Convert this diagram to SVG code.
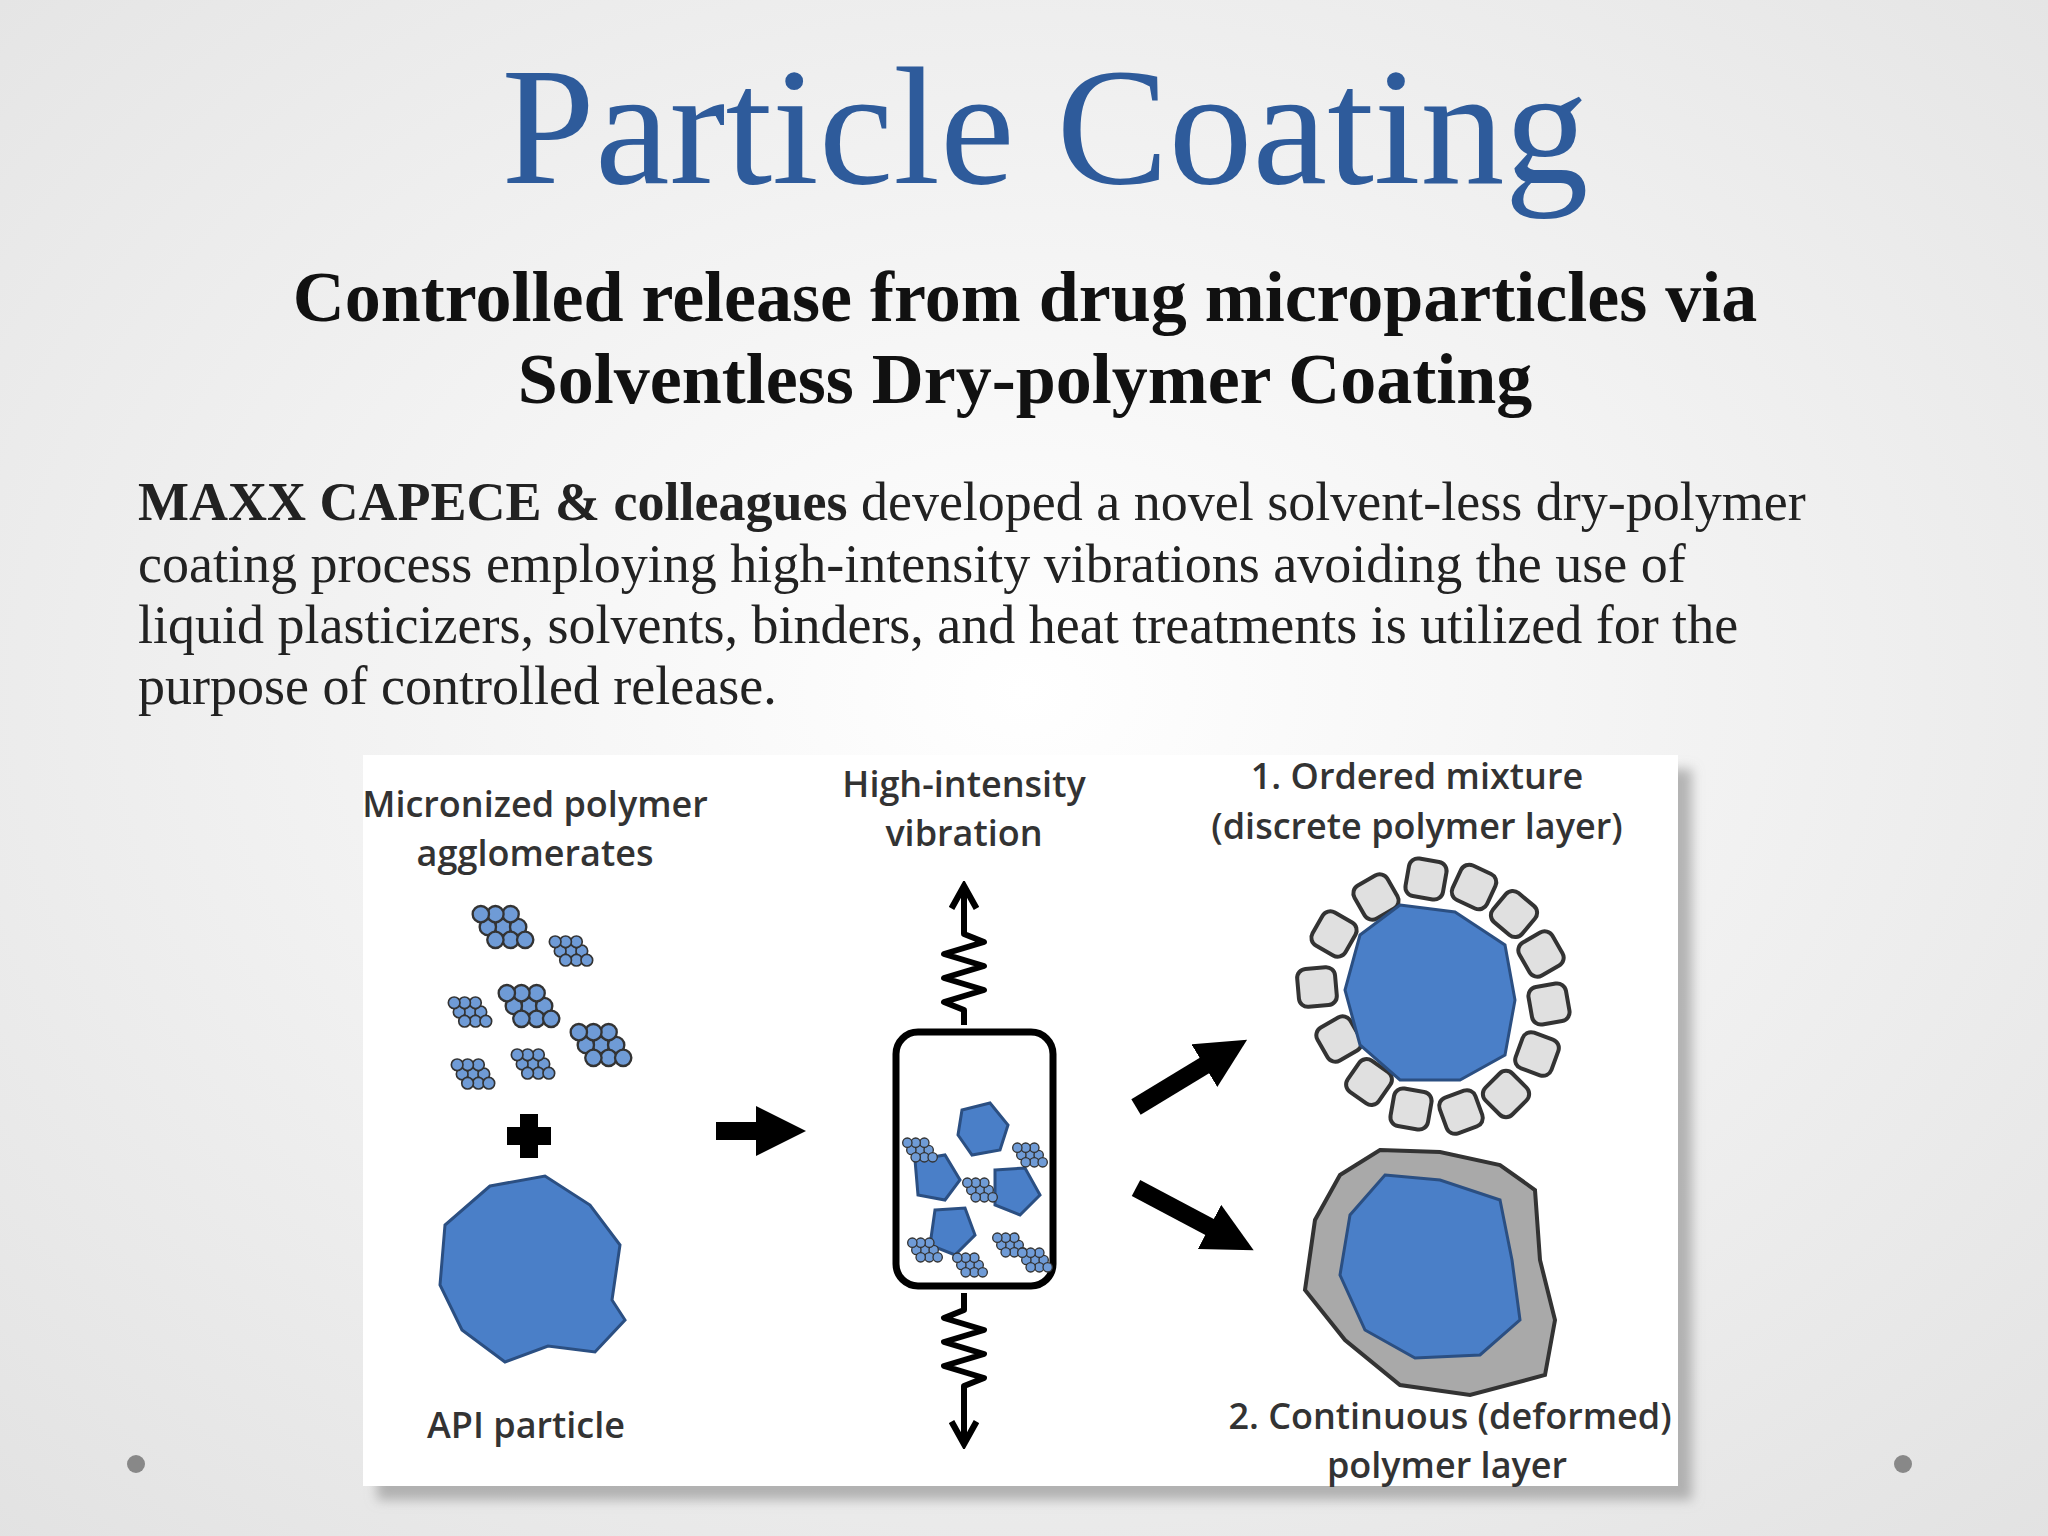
<svg xmlns="http://www.w3.org/2000/svg" width="2048" height="1536" viewBox="0 0 2048 1536">
<defs>
<radialGradient id="bg" cx="50%" cy="45%" r="75%"><stop offset="0" stop-color="#ffffff"/><stop offset="1" stop-color="#e2e2e2"/></radialGradient>
<symbol id="cl" viewBox="-30 -30 60 60" overflow="visible">
<g fill="#6f9bd6" stroke="#333" stroke-width="2">
<circle cx="0" cy="0" r="7"/><circle cx="13" cy="0" r="7"/><circle cx="-13" cy="0" r="7"/><circle cx="6.5" cy="11" r="7"/><circle cx="-6.5" cy="11" r="7"/><circle cx="6.5" cy="-11" r="7"/><circle cx="-6.5" cy="-11" r="7"/><circle cx="19" cy="11" r="7"/><circle cx="-19" cy="-11" r="7"/>
</g></symbol>
<marker id="ah" viewBox="0 0 10 10" refX="6" refY="5" markerWidth="50" markerHeight="50" markerUnits="userSpaceOnUse" orient="auto"><path d="M0,0 L10,5 L0,10 Z" fill="#000"/></marker>
<marker id="op" viewBox="0 0 12 12" refX="10" refY="6" markerWidth="30" markerHeight="30" markerUnits="userSpaceOnUse" orient="auto"><path d="M1,1 L10,6 L1,11" fill="none" stroke="#000" stroke-width="2.5"/></marker>
<filter id="sh"><feDropShadow dx="14" dy="14" stdDeviation="6" flood-color="#999" flood-opacity="0.7"/></filter>
</defs>
<style>
.lb{font-family:"Open Sans","DejaVu Sans",sans-serif;font-size:36px;font-weight:600;fill:#333;text-anchor:middle}
.blob{fill:#4a7fc8;stroke:#2b4f82;stroke-width:3}
.sq{fill:#e0e0e0;stroke:#333;stroke-width:4}
.spr{fill:none;stroke:#000;stroke-width:6;stroke-linejoin:round}
</style>
<rect width="2048" height="1536" fill="url(#bg)"/>
<text x="1045" y="183" font-family="Liberation Serif,serif" font-size="168" fill="#2e5b9b" text-anchor="middle">Particle Coating</text>
<g font-family="Liberation Serif,serif" font-weight="bold" font-size="72" fill="#111" text-anchor="middle">
<text x="1025" y="321">Controlled release from drug microparticles via</text>
<text x="1025" y="403">Solventless Dry-polymer Coating</text>
</g>
<g font-family="Liberation Serif,serif" font-size="54" fill="#222">
<text x="138" y="520"><tspan font-weight="bold">MAXX CAPECE &amp; colleagues</tspan> developed a novel solvent-less dry-polymer</text>
<text x="138" y="582">coating process employing high-intensity vibrations avoiding the use of</text>
<text x="138" y="643">liquid plasticizers, solvents, binders, and heat treatments is utilized for the</text>
<text x="138" y="704">purpose of controlled release.</text>
</g>
<circle cx="136" cy="1464" r="9" fill="#888"/>
<circle cx="1903" cy="1464" r="9" fill="#888"/>
<rect id="panel" x="363" y="755" width="1315" height="731" fill="#fff" filter="url(#sh)"/>
<g id="labels">
<text class="lb" x="535" y="817">Micronized polymer</text>
<text class="lb" x="535" y="866">agglomerates</text>
<text class="lb" x="964" y="797">High-intensity</text>
<text class="lb" x="964" y="846">vibration</text>
<text class="lb" x="1417" y="789">1.  Ordered mixture</text>
<text class="lb" x="1417" y="839">(discrete  polymer layer)</text>
<text class="lb" x="526" y="1438">API particle</text>
<text class="lb" x="1450" y="1429">2.  Continuous  (deformed)</text>
<text class="lb" x="1447" y="1478">polymer layer</text>
</g>
<g id="agglomerates">
<use href="#cl" x="468" y="892" width="70" height="70"/>
<use href="#cl" x="546" y="926" width="50" height="50"/>
<use href="#cl" x="494" y="971" width="70" height="70"/>
<use href="#cl" x="445" y="987" width="50" height="50"/>
<use href="#cl" x="566" y="1010" width="70" height="70"/>
<use href="#cl" x="448" y="1049" width="50" height="50"/>
<use href="#cl" x="508" y="1039" width="50" height="50"/>
</g>
<g id="plus"><rect x="520" y="1114" width="18" height="44" fill="#000"/><rect x="507" y="1127" width="44" height="18" fill="#000"/></g>
<g id="api"><path class="blob" d="M490,1186 L545,1176 L590,1205 L620,1245 L612,1300 L625,1320 L595,1352 L548,1346 L505,1362 L462,1330 L440,1285 L445,1225 Z"/></g>
<g id="vessel">
<rect x="896" y="1032" width="157" height="254" rx="22" fill="#fff" stroke="#000" stroke-width="7"/>
<path class="blob" d="M962,1110 L990,1103 L1008,1125 L1000,1150 L972,1155 L958,1135 Z"/>
<path class="blob" d="M915,1160 L945,1155 L960,1180 L945,1200 L918,1195 Z"/>
<path class="blob" d="M995,1170 L1025,1168 L1040,1195 L1020,1215 L995,1205 Z"/>
<path class="blob" d="M935,1210 L965,1208 L975,1235 L955,1255 L930,1245 Z"/>
<use href="#cl" x="900" y="1130" width="40" height="40"/>
<use href="#cl" x="1010" y="1135" width="40" height="40"/>
<use href="#cl" x="960" y="1170" width="40" height="40"/>
<use href="#cl" x="905" y="1230" width="40" height="40"/>
<use href="#cl" x="990" y="1225" width="40" height="40"/>
<use href="#cl" x="1015" y="1240" width="40" height="40"/>
<use href="#cl" x="950" y="1245" width="40" height="40"/>
</g>
<g id="connectors">
<path class="spr" d="M964,1025 L964,1010 L944,1002 L984,990 L944,978 L984,966 L944,954 L984,942 L964,934 L964,886" marker-end="url(#op)"/>
<path class="spr" d="M964,1293 L964,1310 L944,1318 L984,1330 L944,1342 L984,1354 L944,1366 L984,1378 L964,1386 L964,1444" marker-end="url(#op)"/>
<line x1="716" y1="1131" x2="786" y2="1131" stroke="#000" stroke-width="18" marker-end="url(#ah)"/>
<line x1="1136" y1="1107" x2="1230" y2="1050" stroke="#000" stroke-width="18" marker-end="url(#ah)"/>
<line x1="1136" y1="1188" x2="1236" y2="1241" stroke="#000" stroke-width="18" marker-end="url(#ah)"/>
</g>
<g id="ordered">
<g class="sq">
<rect x="1407" y="860" width="38" height="38" rx="9" transform="rotate(10 1426 879)"/>
<rect x="1455" y="868" width="38" height="38" rx="9" transform="rotate(25 1474 887)"/>
<rect x="1495" y="895" width="38" height="38" rx="9" transform="rotate(40 1514 914)"/>
<rect x="1522" y="935" width="38" height="38" rx="9" transform="rotate(60 1541 954)"/>
<rect x="1530" y="985" width="38" height="38" rx="9" transform="rotate(80 1549 1004)"/>
<rect x="1518" y="1035" width="38" height="38" rx="9" transform="rotate(110 1537 1054)"/>
<rect x="1487" y="1075" width="38" height="38" rx="9" transform="rotate(135 1506 1094)"/>
<rect x="1442" y="1093" width="38" height="38" rx="9" transform="rotate(160 1461 1112)"/>
<rect x="1392" y="1090" width="38" height="38" rx="9" transform="rotate(190 1411 1109)"/>
<rect x="1350" y="1063" width="38" height="38" rx="9" transform="rotate(215 1369 1082)"/>
<rect x="1320" y="1020" width="38" height="38" rx="9" transform="rotate(240 1339 1039)"/>
<rect x="1298" y="968" width="38" height="38" rx="9" transform="rotate(265 1317 987)"/>
<rect x="1315" y="915" width="38" height="38" rx="9" transform="rotate(300 1334 934)"/>
<rect x="1357" y="878" width="38" height="38" rx="9" transform="rotate(330 1376 897)"/>
</g>
<path class="blob" d="M1400,905 L1455,912 L1505,945 L1515,1000 L1505,1055 L1460,1080 L1400,1080 L1360,1045 L1345,990 L1360,935 Z"/>
</g>
<g id="continuous">
<path d="M1380,1150 L1440,1152 L1500,1165 L1535,1190 L1540,1260 L1555,1320 L1545,1375 L1470,1395 L1400,1385 L1345,1340 L1305,1290 L1315,1220 L1340,1175 Z" fill="#a9a9a9" stroke="#333" stroke-width="4"/>
<path class="blob" d="M1385,1175 L1440,1180 L1500,1200 L1512,1260 L1520,1320 L1480,1355 L1415,1358 L1365,1330 L1340,1275 L1350,1215 Z"/>
</g>
</svg>
